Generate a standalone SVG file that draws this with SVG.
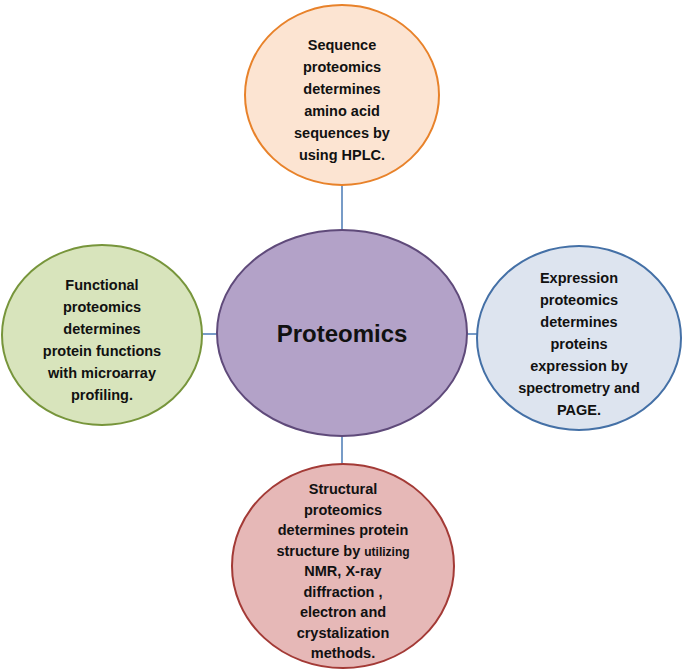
<svg xmlns="http://www.w3.org/2000/svg" width="685" height="672" viewBox="0 0 685 672">
<style>
text{font-family:"Liberation Sans",Arial,sans-serif;font-weight:bold;font-size:14.5px;fill:#111;text-anchor:middle}
.c{stroke:#4a7ab5;stroke-width:1.5;fill:none}
</style>
<rect width="685" height="672" fill="#fff"/>
<g id="connectors">
<line class="c" x1="342" y1="185" x2="342" y2="231"/>
<line class="c" x1="202" y1="334" x2="218" y2="334"/>
<line class="c" x1="466" y1="334" x2="478" y2="334"/>
<line class="c" x1="342" y1="436" x2="342" y2="466"/>
</g>
<g id="center">
<ellipse cx="342" cy="333" rx="125" ry="103" fill="#b3a2c8" stroke="#5f4a7a" stroke-width="2"/>
<text x="342" y="342" style="font-size:24px">Proteomics</text>
</g>
<g id="top">
<ellipse cx="342" cy="95" rx="97" ry="90" fill="#fce4d2" stroke="#e8822a" stroke-width="2"/>
<text x="342" y="50">Sequence</text>
<text x="342" y="72">proteomics</text>
<text x="342" y="94">determines</text>
<text x="342" y="116">amino acid</text>
<text x="342" y="138">sequences by</text>
<text x="342" y="160">using HPLC.</text>
</g>
<g id="left">
<ellipse cx="102" cy="335" rx="100" ry="90" fill="#d8e4bc" stroke="#77953b" stroke-width="2"/>
<text x="102" y="290">Functional</text>
<text x="102" y="312">proteomics</text>
<text x="102" y="334">determines</text>
<text x="102" y="356">protein functions</text>
<text x="102" y="378">with microarray</text>
<text x="102" y="400">profiling.</text>
</g>
<g id="right">
<ellipse cx="579" cy="338" rx="102" ry="92" fill="#dde4ef" stroke="#4470a6" stroke-width="2"/>
<text x="579" y="283">Expression</text>
<text x="579" y="305">proteomics</text>
<text x="579" y="327">determines</text>
<text x="579" y="349">proteins</text>
<text x="579" y="371">expression by</text>
<text x="579" y="393">spectrometry and</text>
<text x="579" y="415">PAGE.</text>
</g>
<g id="bottom">
<ellipse cx="343" cy="566" rx="111" ry="102" fill="#e6b8b7" stroke="#a33a36" stroke-width="2"/>
<text x="343" y="494">Structural</text>
<text x="343" y="514.5">proteomics</text>
<text x="343" y="535">determines protein</text>
<text x="343" y="555.5">structure by <tspan style="font-size:12px">utilizing</tspan></text>
<text x="343" y="576">NMR, X-ray</text>
<text x="343" y="596.5">diffraction ,</text>
<text x="343" y="617">electron  and</text>
<text x="343" y="637.5">crystalization</text>
<text x="343" y="658">methods.</text>
</g>
</svg>
